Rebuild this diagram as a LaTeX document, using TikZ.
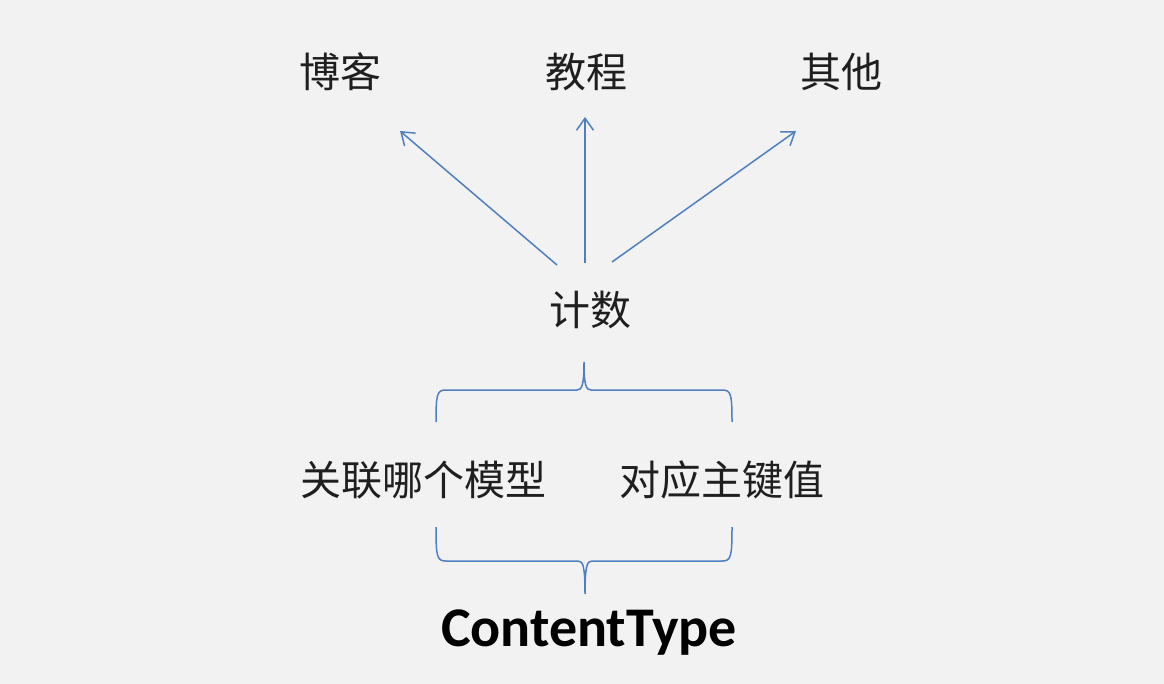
\documentclass[tikz,border=0pt]{standalone}
\usepackage{fontspec}
\usepackage{xcolor}
\usepackage{tikz}
\usetikzlibrary{positioning,calc,arrows.meta}
\newfontfamily\cjk{Noto Sans CJK SC}
\newfontfamily\calib{Carlito}
\definecolor{bgGray}{HTML}{F2F2F2}
\definecolor{lineBlue}{HTML}{4F7FC0}
\tikzset{
  lbl/.style={font=\cjk\fontsize{41}{48}\selectfont, text=black!88, inner sep=0pt},
  arr/.style={draw=lineBlue, line width=1.5pt, -{Straight Barb[length=12pt,width=17pt,line width=1.5pt]}},
  bracepath/.style={draw=lineBlue, line width=1.5pt}
}
\begin{document}
\begin{tikzpicture}[x=1pt,y=-1pt]
  \fill[bgGray] (0,0) rectangle (1164,684);
  \useasboundingbox (0,0) rectangle (1164,684);

  % top row
  \node[lbl] (boke) at (340,72) {博客};
  \node[lbl] (jiaocheng) at (586,72) {教程};
  \node[lbl] (qita) at (841,72) {其他};

  % middle
  \node[lbl] (jishu) at (590,310) {计数};

  % arrow ends
  \coordinate (s1) at (557,265);
  \coordinate (s2) at (585,263);
  \coordinate (s3) at (612,262);
  \coordinate (t1) at (400,131);
  \coordinate (t2) at (585,117);
  \coordinate (t3) at (796,131);
  \draw[arr] (s1) -- (t1);
  \draw[arr] (s2) -- (t2);
  \draw[arr] (s3) -- (t3);

  % pair of fields
  \node[lbl] (model) at (423,480) {关联哪个模型};
  \node[lbl] (pkey) at (722,480) {对应主键值};

  % bottom
  \node[font=\calib\bfseries\fontsize{56}{62}\selectfont, inner sep=0pt] (ctype) at (589,633) {ContentType};

  % upper brace: tip up to 计数
  \def\ya{422}
  \def\yb{390}
  \coordinate (ua) at (436,\ya);
  \coordinate (ub) at (732,\ya);
  \coordinate (utip) at (584,362);
  \draw[bracepath] (ua) .. controls (436,\yb+4) and (437,\yb) .. (446,\yb) -- (577,\yb)
    .. controls (582,\yb) and (584,\yb-5) .. (utip)
    .. controls (584,\yb-5) and (586,\yb) .. (591,\yb) -- (722,\yb)
    .. controls (731,\yb) and (732,\yb+4) .. (ub);

  % lower brace: tip down to ContentType
  \def\yc{527}
  \def\yd{561}
  \coordinate (la) at (436,\yc);
  \coordinate (lb) at (732,\yc);
  \coordinate (ltip) at (585,594);
  \draw[bracepath] (la) .. controls (436,\yd-4) and (437,\yd) .. (446,\yd) -- (578,\yd)
    .. controls (583,\yd) and (585,\yd+5) .. (ltip)
    .. controls (585,\yd+5) and (587,\yd) .. (592,\yd) -- (722,\yd)
    .. controls (731,\yd) and (732,\yd-4) .. (lb);
\end{tikzpicture}
\end{document}
